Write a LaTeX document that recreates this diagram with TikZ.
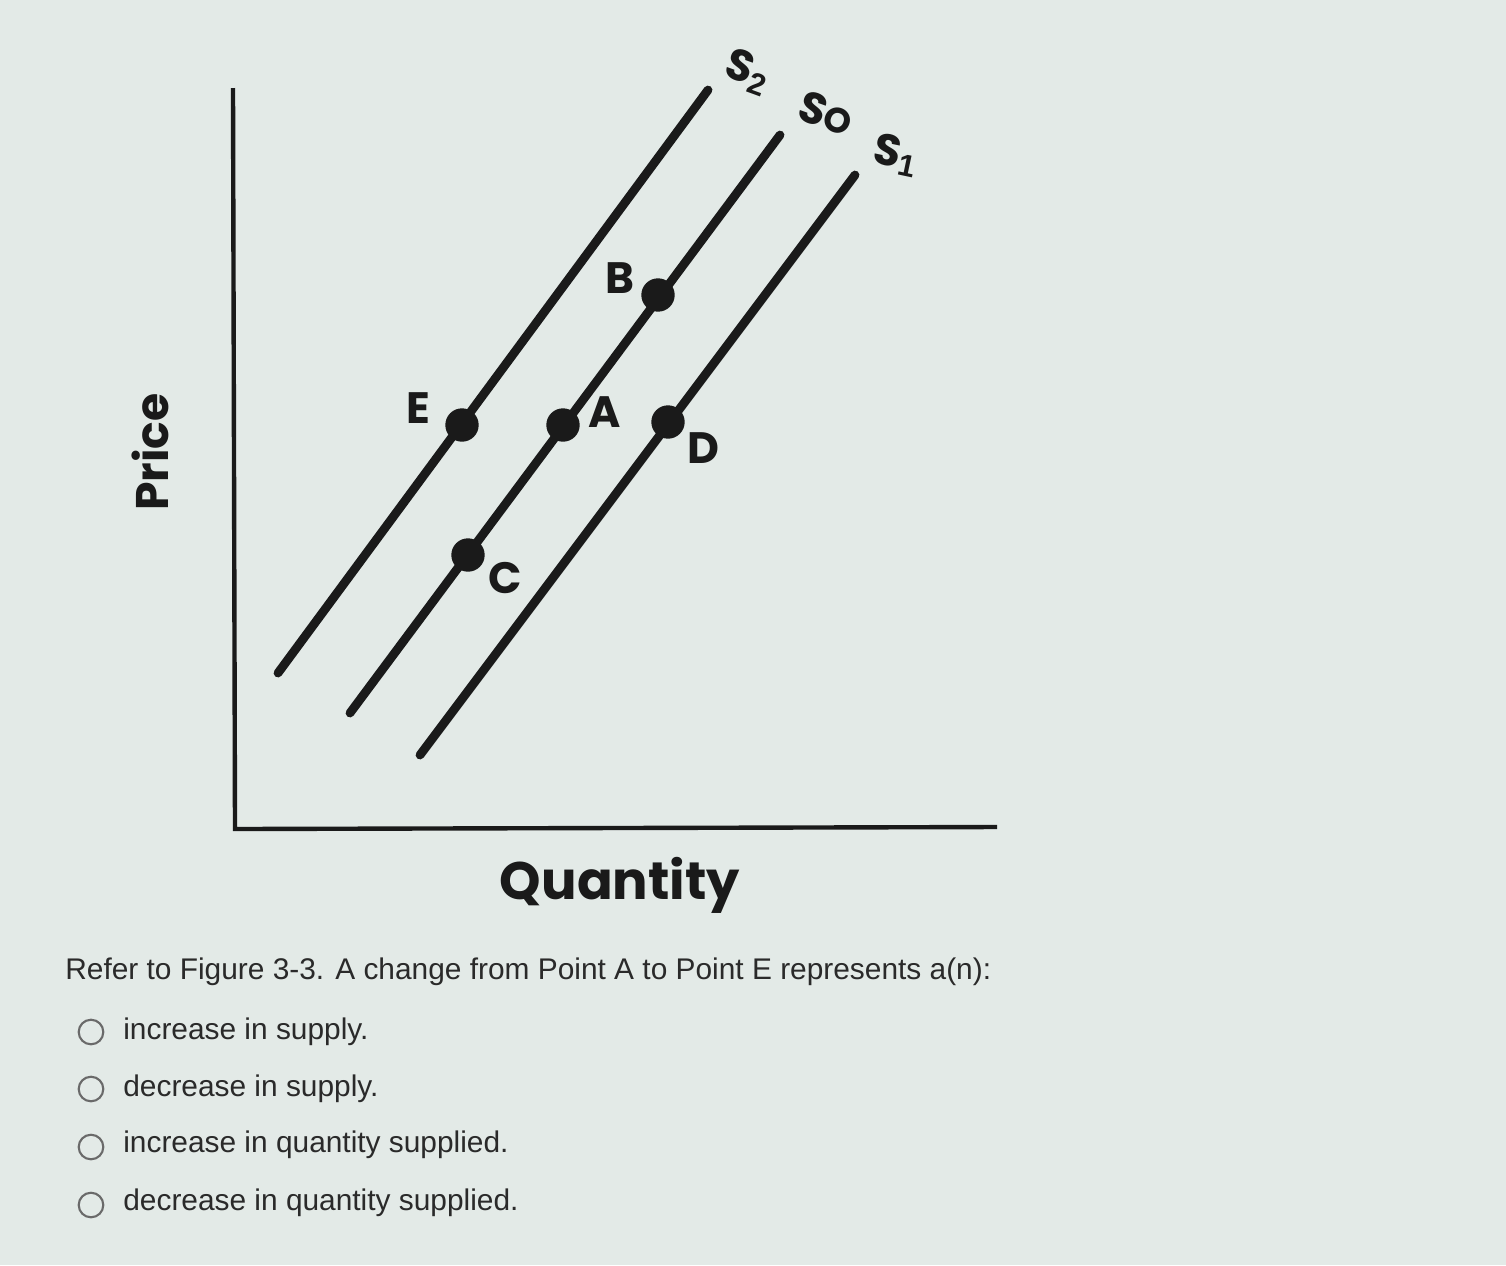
\documentclass[tikz,border=0pt]{standalone}
\usepackage{fontspec}
\setmainfont{Liberation Sans}
\newfontfamily\geo{Poppins}
\definecolor{bg}{HTML}{E3EAE7}
\definecolor{ink}{HTML}{1A1A1A}
\definecolor{txt}{HTML}{2A2A2A}
\tikzset{curve/.style={line width=5pt,ink,line cap=round},
 dot/.style={circle,fill=ink,inner sep=0pt,minimum size=19pt},
 lab/.style={font=\geo\bfseries\fontsize{25}{30}\selectfont,text=ink,inner sep=0pt},
 opt/.style={circle,draw=txt!70,line width=1.2pt,minimum size=14pt,inner sep=0pt},
 opttext/.style={anchor=west,font=\fontsize{17}{20}\selectfont,text=txt,inner sep=0pt}}
\begin{document}
\begin{tikzpicture}[x=0.02cm,y=-0.02cm]
\fill[bg] (0,0) rectangle (1506,1265);
\useasboundingbox (0,0) rectangle (1506,1265);
\coordinate (o) at (235,829);
\coordinate (yt) at (233,88);
\coordinate (xr) at (997,827);
\draw[line width=2.5pt,ink] (yt) -- (o) -- (xr);
\coordinate (s2a) at (278,673); \coordinate (s2b) at (708,90);
\coordinate (s0a) at (350,713); \coordinate (s0b) at (780,135);
\coordinate (s1a) at (420,755); \coordinate (s1b) at (855,175);
\draw[curve] (s2a) -- (s2b);
\draw[curve] (s0a) -- (s0b);
\draw[curve] (s1a) -- (s1b);
\node[dot] (E) at (462,425) {};
\node[dot] (B) at (658,295) {};
\node[dot] (A) at (563,425) {};
\node[dot] (D) at (668,422) {};
\node[dot] (C) at (468,555) {};
\node[lab] (lE) at (418,408) {E};
\node[lab] (lB) at (620,278) {B};
\node[lab] (lA) at (605,412) {A};
\node[lab] (lD) at (703,448) {D};
\node[lab] (lC) at (505,578) {C};
\node[lab,rotate=-20] (lS2) at (748,72) {S$_{\mathbf{2}}$};
\node[lab,rotate=-20] (lS0) at (826,113) {S{\fontsize{20}{22}\selectfont O}};
\node[lab,rotate=-12] (lS1) at (896,155) {S$_{\mathbf{1}}$};
\node[font=\geo\bfseries\fontsize{26}{30}\selectfont,rotate=90,text=ink] (price) at (150,452) {Price};
\node[font=\geo\bfseries\fontsize{30}{34}\selectfont,text=ink] (qty) at (620,885) {Quantity};
\node[opttext] (q) at (65,972) {Refer to Figure 3-3. A change from Point A to Point E represents a(n):};
\node[opt] (o1) at (91,1032) {}; \node[opttext] at (123,1032) {increase in supply.};
\node[opt] (o2) at (91,1089) {}; \node[opttext] at (123,1089) {decrease in supply.};
\node[opt] (o3) at (91,1147) {}; \node[opttext] at (123,1145) {increase in quantity supplied.};
\node[opt] (o4) at (91,1205) {}; \node[opttext] at (123,1203) {decrease in quantity supplied.};
\end{tikzpicture}
\end{document}
